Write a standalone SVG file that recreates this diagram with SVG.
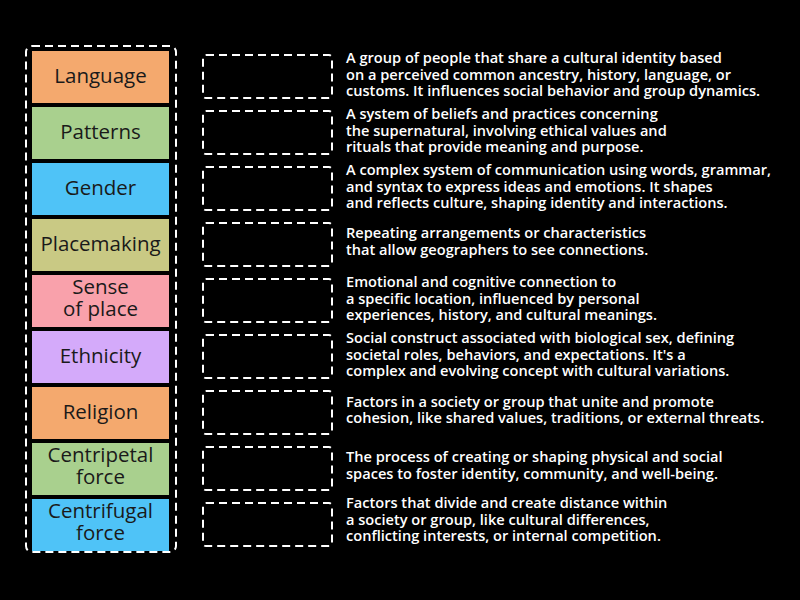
<svg xmlns="http://www.w3.org/2000/svg" width="800" height="600" viewBox="0 0 800 600">
<style>
.term rect{stroke:none}
.term text{font-family:"Open Sans","Liberation Sans",sans-serif;font-size:20.5px;fill:#1a1a1a;text-anchor:middle}
.slot{fill:none;stroke:#fff;stroke-width:2;stroke-dasharray:8 5}
.def{font-family:"Open Sans","Liberation Sans",sans-serif;font-size:14.6px;font-weight:600;fill:#fff}
</style>
<rect width="800" height="600" fill="#000"/>
<rect x="26" y="46" width="150" height="506" rx="6" fill="none" stroke="#fff" stroke-width="2" stroke-dasharray="8 5"/>
<g id="terms">
<g id="t-language" class="term"><rect x="32" y="51" width="137" height="52" fill="#F4A96E"/><text x="100.5" y="83">Language</text></g>
<g id="t-patterns" class="term"><rect x="32" y="107" width="137" height="52" fill="#A9D08E"/><text x="100.5" y="139">Patterns</text></g>
<g id="t-gender" class="term"><rect x="32" y="163" width="137" height="52" fill="#4FC3F7"/><text x="100.5" y="195">Gender</text></g>
<g id="t-placemaking" class="term"><rect x="32" y="219" width="137" height="52" fill="#C9C984"/><text x="100.5" y="251">Placemaking</text></g>
<g id="t-sense" class="term"><rect x="32" y="275" width="137" height="52" fill="#F9A1AB"/><text x="100.5" y="294">Sense</text><text x="100.5" y="316">of place</text></g>
<g id="t-ethnicity" class="term"><rect x="32" y="331" width="137" height="52" fill="#D4AAFA"/><text x="100.5" y="363">Ethnicity</text></g>
<g id="t-religion" class="term"><rect x="32" y="387" width="137" height="52" fill="#F4A96E"/><text x="100.5" y="419">Religion</text></g>
<g id="t-centripetal" class="term"><rect x="32" y="443" width="137" height="52" fill="#A9D08E"/><text x="100.5" y="462">Centripetal</text><text x="100.5" y="484">force</text></g>
<g id="t-centrifugal" class="term"><rect x="32" y="499" width="137" height="52" fill="#4FC3F7"/><text x="100.5" y="518">Centrifugal</text><text x="100.5" y="540">force</text></g>
</g>
<g id="slots">
<rect class="slot" x="203" y="55" width="129" height="43" rx="3"/>
<rect class="slot" x="203" y="111" width="129" height="43" rx="3"/>
<rect class="slot" x="203" y="167" width="129" height="43" rx="3"/>
<rect class="slot" x="203" y="223" width="129" height="43" rx="3"/>
<rect class="slot" x="203" y="279" width="129" height="43" rx="3"/>
<rect class="slot" x="203" y="335" width="129" height="43" rx="3"/>
<rect class="slot" x="203" y="391" width="129" height="43" rx="3"/>
<rect class="slot" x="203" y="447" width="129" height="43" rx="3"/>
<rect class="slot" x="203" y="503" width="129" height="43" rx="3"/>
</g>
<g id="definitions">
<text class="def" x="346" y="63">A group of people that share a cultural identity based</text>
<text class="def" x="346" y="80">on a perceived common ancestry, history, language, or</text>
<text class="def" x="346" y="96">customs. It influences social behavior and group dynamics.</text>
<text class="def" x="346" y="119">A system of beliefs and practices concerning</text>
<text class="def" x="346" y="136">the supernatural, involving ethical values and</text>
<text class="def" x="346" y="152">rituals that provide meaning and purpose.</text>
<text class="def" x="346" y="175">A complex system of communication using words, grammar,</text>
<text class="def" x="346" y="192">and syntax to express ideas and emotions. It shapes</text>
<text class="def" x="346" y="208">and reflects culture, shaping identity and interactions.</text>
<text class="def" x="346" y="238">Repeating arrangements or characteristics</text>
<text class="def" x="346" y="255">that allow geographers to see connections.</text>
<text class="def" x="346" y="287">Emotional and cognitive connection to</text>
<text class="def" x="346" y="304">a specific location, influenced by personal</text>
<text class="def" x="346" y="320">experiences, history, and cultural meanings.</text>
<text class="def" x="346" y="343">Social construct associated with biological sex, defining</text>
<text class="def" x="346" y="360">societal roles, behaviors, and expectations. It's a</text>
<text class="def" x="346" y="376">complex and evolving concept with cultural variations.</text>
<text class="def" x="346" y="407">Factors in a society or group that unite and promote</text>
<text class="def" x="346" y="423">cohesion, like shared values, traditions, or external threats.</text>
<text class="def" x="346" y="462">The process of creating or shaping physical and social</text>
<text class="def" x="346" y="479">spaces to foster identity, community, and well-being.</text>
<text class="def" x="346" y="508">Factors that divide and create distance within</text>
<text class="def" x="346" y="525">a society or group, like cultural differences,</text>
<text class="def" x="346" y="541">conflicting interests, or internal competition.</text>
</g>
</svg>
